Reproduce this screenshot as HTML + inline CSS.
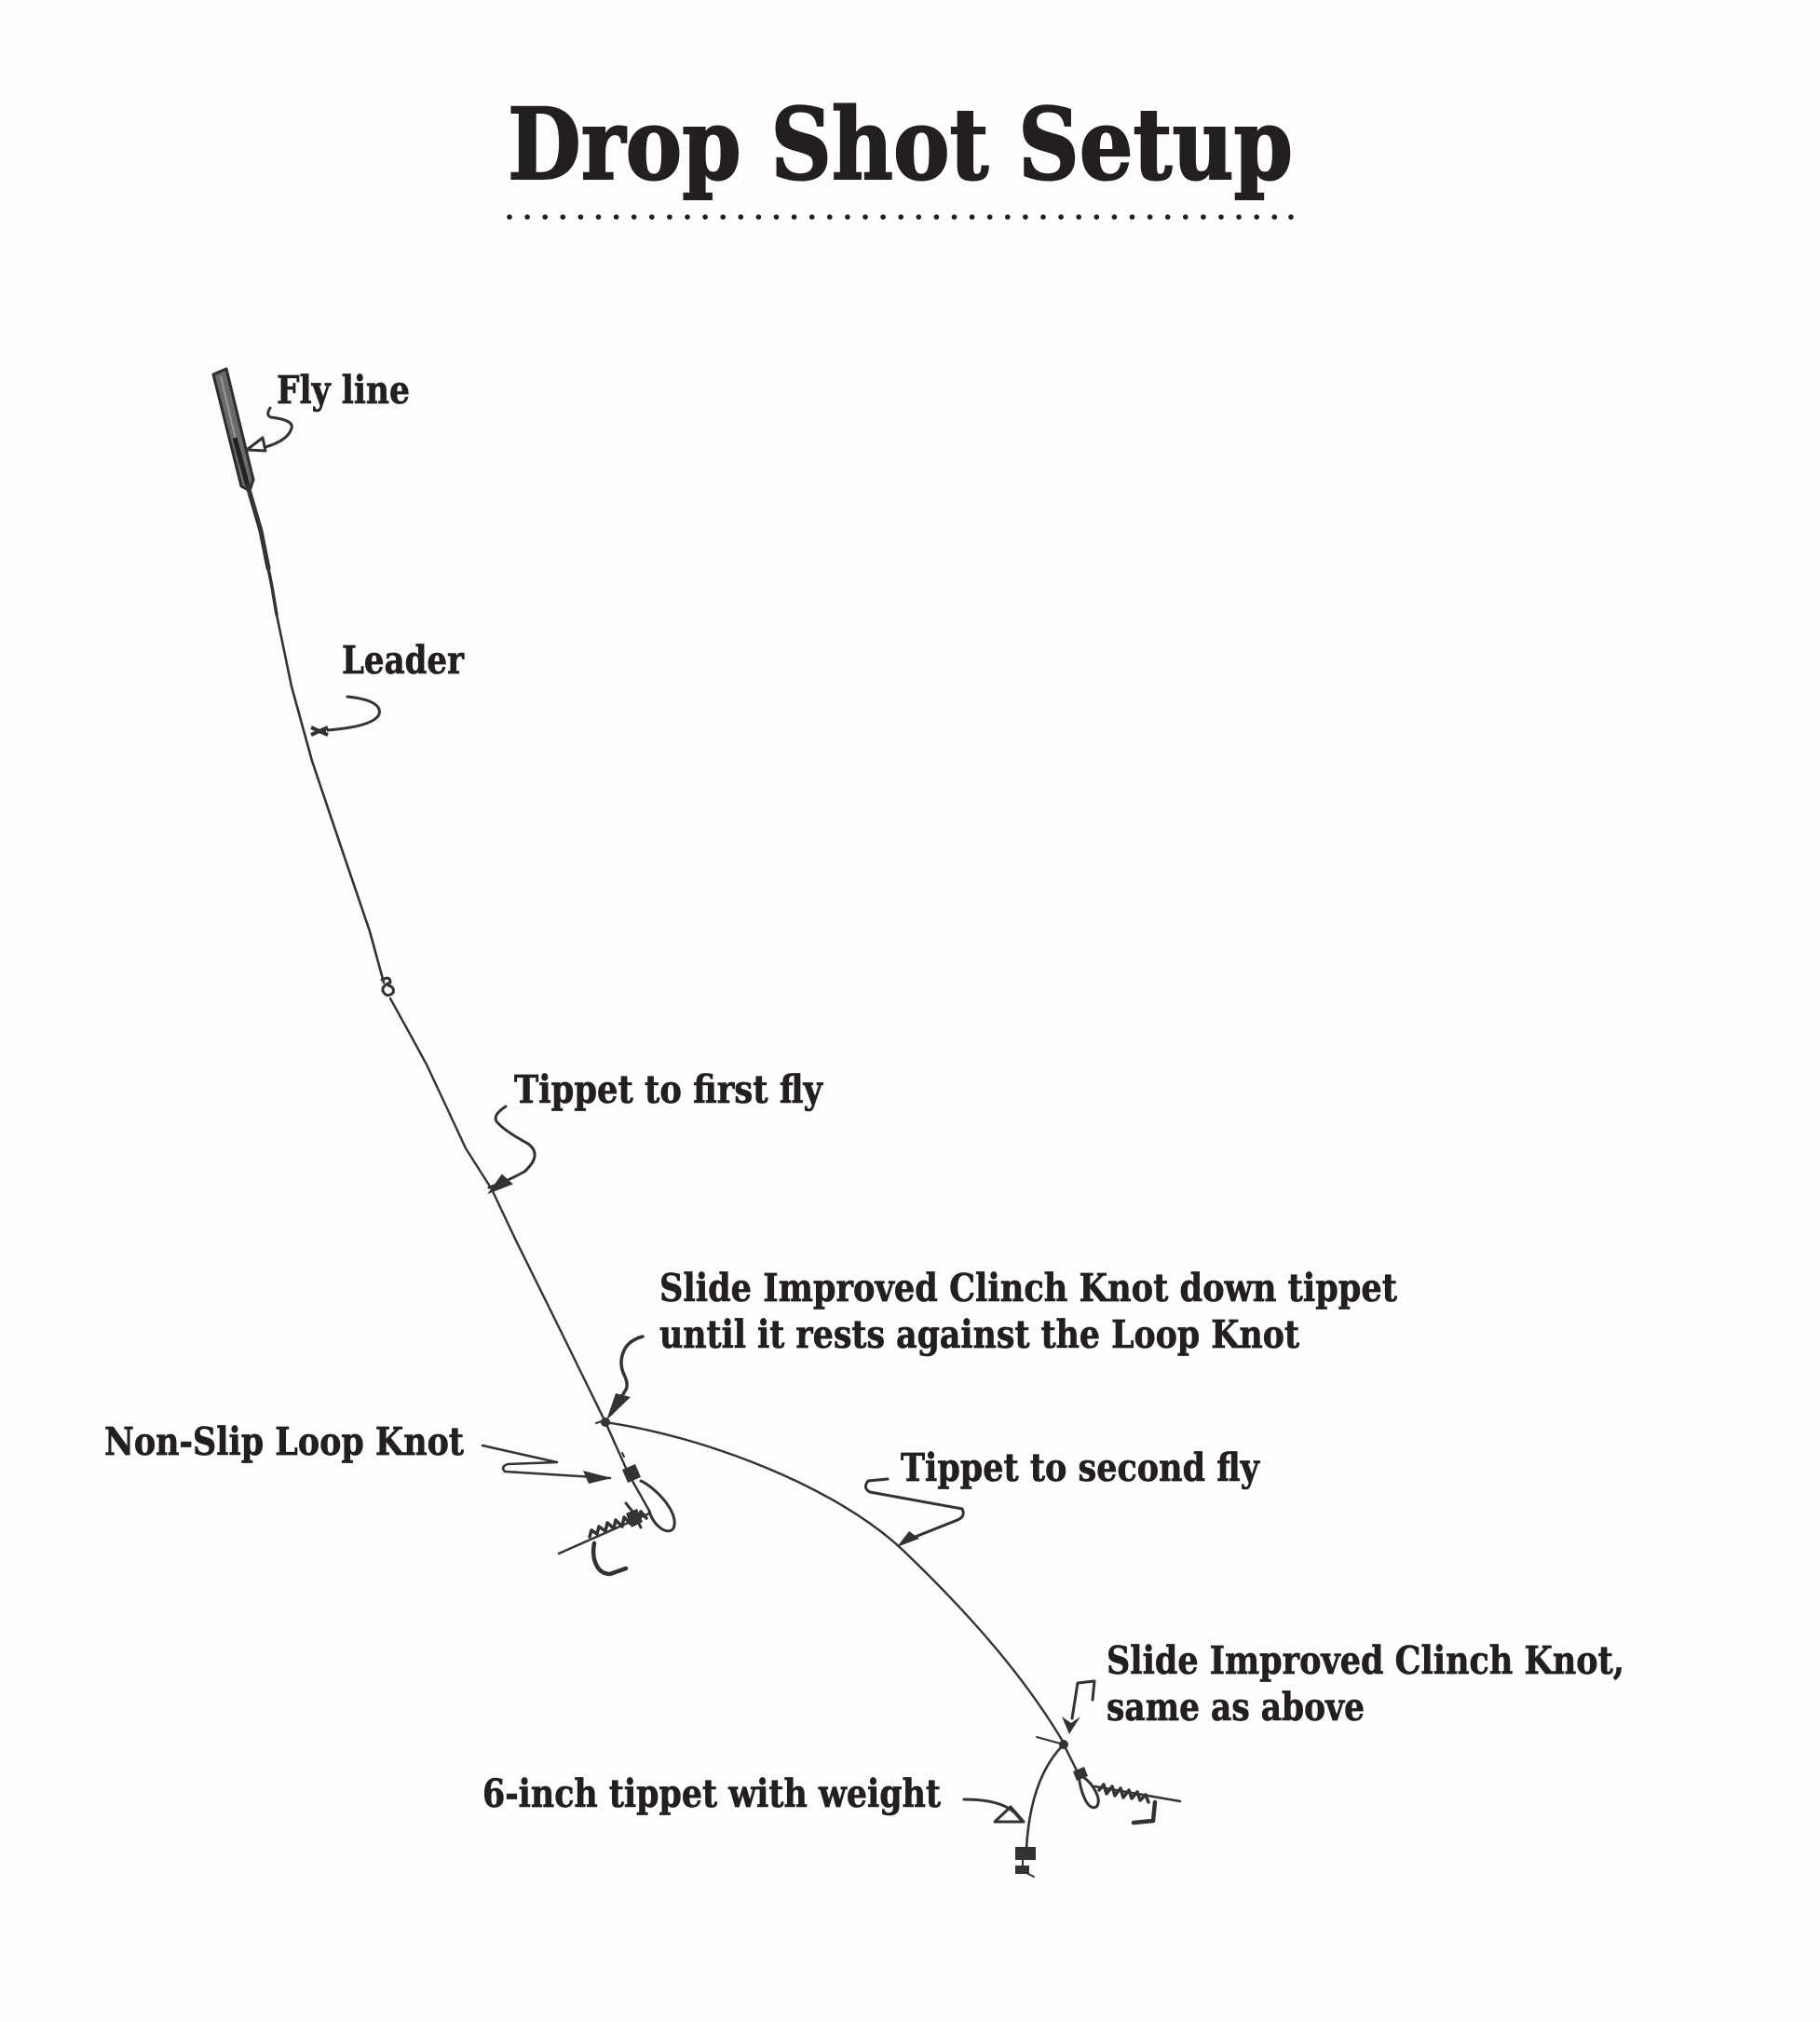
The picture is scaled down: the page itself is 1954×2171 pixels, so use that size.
<!DOCTYPE html>
<html>
<head>
<meta charset="utf-8">
<style>
html,body{margin:0;padding:0;background:#fdfdfd;}
svg{display:block;}
.lbl{font-family:"DejaVu Serif","Liberation Serif",serif;font-weight:bold;font-size:41px;fill:#231f20;stroke:#231f20;stroke-width:0.7px;}
.ttl{font-family:"DejaVu Serif","Liberation Serif",serif;font-weight:bold;font-size:106px;fill:#231f20;stroke:#231f20;stroke-width:2px;}
.ln{fill:none;stroke:#333;stroke-linecap:round;stroke-linejoin:round;}
</style>
</head>
<body>
<svg width="1954" height="2171" viewBox="0 0 1954 2171" xmlns="http://www.w3.org/2000/svg">
<rect width="1954" height="2171" fill="#fdfdfd"/>

<!-- Title -->
<text class="ttl" x="545" y="192" textLength="843" lengthAdjust="spacingAndGlyphs">Drop Shot Setup</text>
<g fill="#231f20">
<circle cx="547.0" cy="233" r="2.8"/><circle cx="566.1" cy="233" r="2.8"/><circle cx="585.2" cy="233" r="2.8"/><circle cx="604.3" cy="233" r="2.8"/><circle cx="623.4" cy="233" r="2.8"/><circle cx="642.5" cy="233" r="2.8"/><circle cx="661.6" cy="233" r="2.8"/><circle cx="680.7" cy="233" r="2.8"/><circle cx="699.8" cy="233" r="2.8"/><circle cx="718.9" cy="233" r="2.8"/><circle cx="738.0" cy="233" r="2.8"/><circle cx="757.1" cy="233" r="2.8"/><circle cx="776.2" cy="233" r="2.8"/><circle cx="795.3" cy="233" r="2.8"/><circle cx="814.4" cy="233" r="2.8"/><circle cx="833.5" cy="233" r="2.8"/><circle cx="852.6" cy="233" r="2.8"/><circle cx="871.7" cy="233" r="2.8"/><circle cx="890.8" cy="233" r="2.8"/><circle cx="909.9" cy="233" r="2.8"/><circle cx="929.0" cy="233" r="2.8"/><circle cx="948.1" cy="233" r="2.8"/><circle cx="967.2" cy="233" r="2.8"/><circle cx="986.3" cy="233" r="2.8"/><circle cx="1005.4" cy="233" r="2.8"/><circle cx="1024.5" cy="233" r="2.8"/><circle cx="1043.6" cy="233" r="2.8"/><circle cx="1062.7" cy="233" r="2.8"/><circle cx="1081.8" cy="233" r="2.8"/><circle cx="1100.9" cy="233" r="2.8"/><circle cx="1120.0" cy="233" r="2.8"/><circle cx="1139.1" cy="233" r="2.8"/><circle cx="1158.2" cy="233" r="2.8"/><circle cx="1177.3" cy="233" r="2.8"/><circle cx="1196.4" cy="233" r="2.8"/><circle cx="1215.5" cy="233" r="2.8"/><circle cx="1234.6" cy="233" r="2.8"/><circle cx="1253.7" cy="233" r="2.8"/><circle cx="1272.8" cy="233" r="2.8"/><circle cx="1291.9" cy="233" r="2.8"/><circle cx="1311.0" cy="233" r="2.8"/><circle cx="1330.1" cy="233" r="2.8"/><circle cx="1349.2" cy="233" r="2.8"/><circle cx="1368.3" cy="233" r="2.8"/><circle cx="1386.0" cy="233" r="2.8"/>
</g>

<!-- Labels -->
<text class="lbl" x="297" y="433" textLength="143" lengthAdjust="spacingAndGlyphs">Fly line</text>
<text class="lbl" x="367" y="723" textLength="131" lengthAdjust="spacingAndGlyphs">Leader</text>
<text class="lbl" x="552" y="1184" textLength="331" lengthAdjust="spacingAndGlyphs">Tippet to first fly</text>
<text class="lbl" x="708" y="1397" textLength="792" lengthAdjust="spacingAndGlyphs">Slide Improved Clinch Knot down tippet</text>
<text class="lbl" x="708" y="1447" textLength="687" lengthAdjust="spacingAndGlyphs">until it rests against the Loop Knot</text>
<text class="lbl" x="112" y="1562" textLength="386" lengthAdjust="spacingAndGlyphs">Non-Slip Loop Knot</text>
<text class="lbl" x="967" y="1590" textLength="385" lengthAdjust="spacingAndGlyphs">Tippet to second fly</text>
<text class="lbl" x="1188" y="1797" textLength="556" lengthAdjust="spacingAndGlyphs">Slide Improved Clinch Knot,</text>
<text class="lbl" x="1188" y="1847" textLength="277" lengthAdjust="spacingAndGlyphs">same as above</text>
<text class="lbl" x="518" y="1940" textLength="492" lengthAdjust="spacingAndGlyphs">6-inch tippet with weight</text>

<!-- Fly line (thick, sketchy) -->
<path d="M229,402 L243,396 L272,515 L268,527 L259,522 Z" fill="#6a6a6a" stroke="#2e2e2e" stroke-width="3" stroke-linejoin="round"/>
<path d="M237,404 L262,510" stroke="#999" stroke-width="2" fill="none"/>
<path d="M252,470 L266,522" stroke="#222" stroke-width="5" fill="none"/>

<!-- Leader + tippet main line -->
<path class="ln" stroke-width="5" d="M266,522 L280,570 L288,610"/>
<path class="ln" stroke-width="3.5" d="M288,610 L292,630 L297,660"/>
<path class="ln" stroke-width="2.6" d="M297,660 L313,737 L335,817 L365,906 L397,1000 L412,1055"/>
<path class="ln" stroke-width="2.4" d="M419,1072 L440,1110 L458,1143 L480,1190 L500,1233 L528,1277 L553,1330 L600,1425 L650,1527 L675,1583 L697,1622"/>
<!-- small knot on leader -->
<path class="ln" stroke-width="3" d="M410,1052 q9,-5 9,3 q-9,3 -8,9 q4,8 11,2 q2,-6 -5,-8"/>

<!-- Tippet to second fly -->
<path class="ln" stroke-width="2.4" d="M650,1527 C760,1543 900,1598 970,1665 S1100,1800 1143,1873"/>

<!-- Arrow: Fly line -->
<path class="ln" stroke-width="3" d="M290,438 q-5,8 1,10 q25,3 22,12 q-4,13 -28,20"/>
<path d="M265,483 L282,470 L285,484 Z" fill="none" stroke="#333" stroke-width="3" stroke-linejoin="round"/>

<!-- Arrow: Leader -->
<path class="ln" stroke-width="3" d="M373,748 q38,4 34,19 q-6,13 -55,17"/>
<path d="M334,781 L352,789 M334,789 L352,781 M338,785 L350,785" stroke="#333" stroke-width="4" fill="none"/>

<!-- Arrow: Tippet to first fly -->
<path class="ln" stroke-width="3" d="M543,1188 q-14,9 -10,16 q8,10 34,24 q16,12 -4,30 q-18,10 -38,17"/>
<path d="M526,1280 L539,1262 L549,1271 Z" fill="#333" stroke="#333" stroke-width="2"/>

<!-- Arrow: Slide (first) -->
<path class="ln" stroke-width="3.5" d="M690,1435 q-15,4 -20,15 q-6,13 0,26 q5,10 2,16 L656,1518"/>
<path d="M651,1525 L661,1496 L677,1500 Z" fill="#333"/>
<circle cx="650" cy="1527" r="5" fill="#333"/>
<path class="ln" stroke-width="2" d="M640,1528 L652,1524"/>

<!-- Arrow: Non-Slip Loop Knot -->
<path class="ln" stroke-width="2.5" d="M518,1552 L598,1570 L545,1572 q-8,3 -3,8 L655,1587"/>
<path d="M626,1579 L657,1587 L632,1593 Z" fill="#333"/>

<!-- Fly 1 -->
<path d="M668,1578 l14,-6 l6,14 l-14,6 Z" fill="#333"/>
<path class="ln" stroke-width="2" d="M668,1560 l2,4"/>
<path class="ln" stroke-width="3" d="M688,1590 C705,1598 730,1625 723,1641 C716,1650 700,1636 697,1622"/>
<path class="ln" stroke-width="2.5" d="M697,1625 L600,1668"/>
<path class="ln" stroke-width="3.5" d="M694,1630 l-6,-7 l-2,11 l-7,-8 l-2,10 l-7,-7 l-2,10 l-7,-7 l-2,9 l-7,-6 l-2,9 l-7,-5 l-2,8 l-6,-4 l-2,7"/>
<path d="M672,1625 l12,-5 l6,14 l-12,6 Z" fill="#333"/>
<path class="ln" stroke-width="3" d="M672,1614 l8,10 M688,1640 l-6,-12"/>
<path class="ln" stroke-width="4.5" d="M638,1657 C635,1672 640,1690 655,1690 L672,1684"/>

<!-- Arrow: Tippet to second fly -->
<path class="ln" stroke-width="3" d="M953,1588 L932,1590 q-6,8 2,12 L1033,1620 q4,8 -5,12 L970,1655"/>
<path d="M963,1661 L976,1644 L987,1652 Z" fill="#333"/>

<!-- Arrow: Slide (second) -->
<path class="ln" stroke-width="3" d="M1173,1825 L1175,1805 L1157,1807 L1151,1845"/>
<path d="M1140,1843 L1148,1862 L1160,1843 L1150,1850 Z" fill="#333"/>

<!-- Junction 2 -->
<circle cx="1142" cy="1873" r="5" fill="#333"/>
<path class="ln" stroke-width="2" d="M1113,1865 L1142,1873"/>

<!-- Weight tippet -->
<path class="ln" stroke-width="2.6" d="M1142,1873 C1120,1895 1105,1930 1102,1985"/>
<rect x="1090" y="1983" width="22" height="14" fill="#333"/>
<rect x="1090" y="2003" width="15" height="9" fill="#333"/>
<path class="ln" stroke-width="2" d="M1098,1997 L1098,2003 M1100,2010 L1110,2015"/>

<!-- Fly 2 -->
<path class="ln" stroke-width="2.5" d="M1142,1873 L1158,1905"/>
<path d="M1152,1902 l12,-5 l4,10 l-12,5 Z" fill="#333"/>
<path class="ln" stroke-width="3" d="M1158,1905 C1160,1925 1168,1945 1177,1940 C1184,1932 1173,1915 1163,1908"/>
<path class="ln" stroke-width="2.5" d="M1175,1918 L1267,1934"/>
<path class="ln" stroke-width="3.5" d="M1180,1922 l5,-6 l3,10 l6,-8 l3,10 l6,-8 l3,10 l6,-8 l3,9 l6,-7 l3,9 l6,-6 l3,8"/>
<path class="ln" stroke-width="4.5" d="M1240,1935 L1238,1955 L1217,1957"/>

<!-- Arrow: 6-inch -->
<path class="ln" stroke-width="3" d="M1035,1932 q40,0 55,15 L1097,1955"/>
<path d="M1068,1956 L1085,1940 L1099,1956 Z" fill="none" stroke="#333" stroke-width="3" stroke-linejoin="round"/>
</svg>
</body>
</html>
